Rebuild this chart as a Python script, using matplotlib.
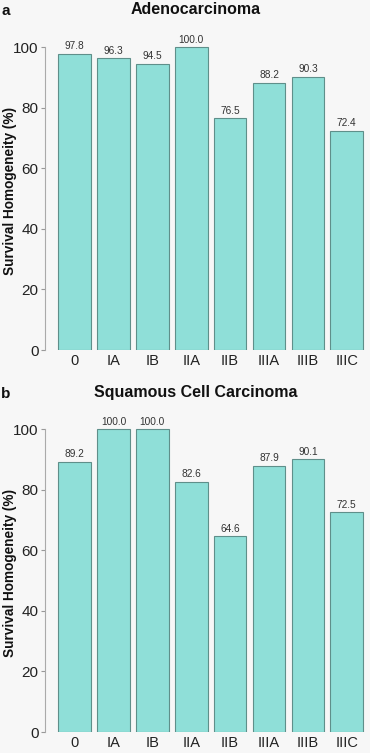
import matplotlib
matplotlib.use("Agg")
import matplotlib.pyplot as plt

plt.rcParams['font.family'] = ['Liberation Sans', 'DejaVu Sans']

stages = ["0", "IA", "IB", "IIA", "IIB", "IIIA", "IIIB", "IIIC"]
adeno = [97.8, 96.3, 94.5, 100.0, 76.5, 88.2, 90.3, 72.4]
squam = [89.2, 100.0, 100.0, 82.6, 64.6, 87.9, 90.1, 72.5]
yticks = [0, 20, 40, 60, 80, 100]
titles = ["Adenocarcinoma", "Squamous Cell Carcinoma"]
letters = ["a", "b"]

W, H = 370, 753
fig = plt.figure(figsize=(W / 100, H / 100), dpi=100)
bg = "#f7f7f7"
fig.patch.set_facecolor(bg)

def px_axes(left, top, right, bottom):
    return fig.add_axes([left / W, 1 - bottom / H, (right - left) / W, (bottom - top) / H])

panels = [(adeno, 32, 350, 10), (squam, 414, 732, 393)]
for i, (vals, top, bottom, ty) in enumerate(panels):
    ax = px_axes(45, top, 367, bottom)
    ax.set_facecolor(bg)
    x = list(range(len(stages)))
    ax.bar(x, vals, width=0.84, color="#8fdfd8", edgecolor="#5f8f8a", linewidth=0.8)
    for xi, v in zip(x, vals):
        ax.annotate(f"{v:.1f}", (xi, v), xytext=(0, 1.8), textcoords="offset points",
                    ha="center", va="bottom", fontsize=7.3, color="#333333")
    ax.set_xlim(-0.76, 7.52)
    ax.set_ylim(0, 105)
    ax.set_xticks(x)
    ax.set_xticklabels(stages, fontsize=10.5, color="#222222")
    ax.set_yticks(yticks)
    ax.set_yticklabels([str(t) for t in yticks], fontsize=11, color="#222222")
    ax.tick_params(axis="x", length=0, pad=2.6)
    ax.tick_params(axis="y", length=3, color="#999999", width=0.8, pad=1.5)
    for s in ["top", "right", "bottom"]:
        ax.spines[s].set_visible(False)
    ax.spines["left"].set_color("#aaaaaa")
    ax.spines["left"].set_linewidth(0.8)
    ax.spines["left"].set_bounds(0, 100)
    fig.text(10 / W, 1 - ((top + bottom) / 2) / H, "Survival Homogeneity (%)", rotation=90,
             fontsize=9.8, fontweight="bold", ha="center", va="center", color="#111111")
    fig.text(196 / W, 1 - ty / H, titles[i], fontsize=11.5, fontweight="bold",
             ha="center", va="center", color="#111111")
    fig.text(1 / W, 1 - (ty + 1) / H, letters[i], fontsize=11, fontweight="bold",
             va="center", ha="left", color="#111111")

fig.savefig("out.png", dpi=100, facecolor=bg)
